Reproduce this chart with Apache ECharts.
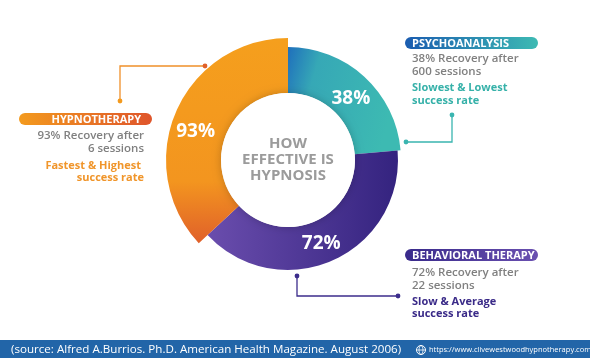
<!DOCTYPE html>
<html>
<head>
<meta charset="utf-8">
<script src="https://cdn.jsdelivr.net/npm/echarts@6/dist/echarts.min.js"></script>
<style>html,body{margin:0;padding:0;background:#fff;}#c{width:590px;height:358px;}</style>
</head>
<body>
<div id="c"></div>
<script>
// ---- data ----
var therapies = ['Psychoanalysis', 'Behavioral Therapy', 'Hypnotherapy'];
var recoveryPct = [38, 72, 93];            // label values
var arcSpanDeg = [85, 142, 133];            // drawn arc spans (degrees) as they appear in the picture
var sessions = [600, 22, 6];
var headlines = ['PSYCHOANALYSIS', 'BEHAVIORAL THERAPY', 'HYPNOTHERAPY'];
var verdicts = [['Slowest & Lowest', 'success rate'], ['Slow & Average', 'success rate'], ['Fastest & Highest', 'success rate']];

var FONT = '"Open Sans", sans-serif';
var outerR = [113, 110, 122];
var innerR = 67;
var CX = 288, CY = 160;
var labelShift = [[0, 7], [-4, 0], [-3, 10]];

function lg(x, y, x2, y2, stops) {
  return new echarts.graphic.LinearGradient(x, y, x2, y2, stops.map(function (s) { return { offset: s[0], color: s[1] }; }));
}
var sliceFills = [
  lg(0, 0, 1, 0.3, [[0, '#1f6fbc'], [0.28, '#36a8b6'], [1, '#3dbab2']]),
  lg(0, 0, 1, 0, [[0, '#6a4dad'], [1, '#34237f']]),
  lg(0, 0, 0, 1, [[0, '#f59f1d'], [0.7, '#f3951f'], [1, '#e0602a']])
];

var series = therapies.map(function (name, i) {
  return {
    type: 'pie',
    silent: true,
    center: [CX, CY],
    radius: [innerR, outerR[i]],
    startAngle: 90,
    clockwise: true,
    avoidLabelOverlap: false,
    labelLine: { show: false },
    animation: false,
    data: therapies.map(function (n, j) {
      return {
        name: n,
        value: arcSpanDeg[j],
        itemStyle: { color: j === i ? sliceFills[i] : 'rgba(0,0,0,0)' },
        label: {
          show: j === i,
          position: 'inside',
          formatter: recoveryPct[j] + '%',
          offset: labelShift[j],
          color: '#ffffff',
          fontSize: 19,
          fontWeight: 'bold',
          fontFamily: FONT
        }
      };
    })
  };
});

function txt(x, y, s, opts) {
  return {
    type: 'text', x: x, y: y, z: 20,
    style: Object.assign({ text: s, fontFamily: FONT, fontSize: 11.5, fontWeight: 600, fill: '#808080', textVerticalAlign: 'middle', textAlign: 'left' }, opts || {})
  };
}
function pill(x, y, w, h, c1, c2) {
  return { type: 'rect', z: 15, shape: { x: x, y: y, width: w, height: h, r: h / 2 }, style: { fill: lg(0, 0, 1, 0, [[0, c1], [1, c2]]) } };
}
function poly(pts, color) {
  return { type: 'polyline', z: 15, shape: { points: pts }, style: { stroke: color, lineWidth: 1.3, fill: null } };
}
function dot(x, y, color) {
  return { type: 'circle', z: 16, shape: { cx: x, cy: y, r: 2.4 }, style: { fill: color } };
}

var graphics = [
  // inner white disc with soft shadow
  { type: 'circle', z: 10, shape: { cx: CX, cy: CY, r: innerR }, style: { fill: '#ffffff', shadowBlur: 8, shadowColor: 'rgba(0,0,0,0.22)' } },
  { type: 'text', z: 12, x: CX, y: CY, style: { text: 'HOW\nEFFECTIVE IS\nHYPNOSIS', fontFamily: FONT, fontWeight: 'bold', fontSize: 15, lineHeight: 16, fill: '#9b9b9b', textAlign: 'center', textVerticalAlign: 'middle' } },

  // Psychoanalysis
  pill(405, 37, 133, 12, '#1a5cb0', '#3dbab3'),
  txt(412, 43.5, headlines[0], { fill: '#ffffff', fontWeight: 'bold', fontSize: 11 }),
  txt(412, 59, recoveryPct[0] + '% Recovery after'),
  txt(412, 71.5, sessions[0] + ' sessions'),
  txt(412, 88, verdicts[0][0], { fill: '#36b1a9', fontWeight: 'bold', fontSize: 11 }),
  txt(412, 100.5, verdicts[0][1], { fill: '#36b1a9', fontWeight: 'bold', fontSize: 11 }),
  poly([[452, 115], [452, 142], [406, 142]], '#3ab5b0'),
  dot(452, 115, '#3ab5b0'), dot(406, 142, '#3ab5b0'),

  // Behavioral
  pill(405, 249, 133, 12, '#392a8b', '#6a50b0'),
  txt(412, 255.5, headlines[1], { fill: '#ffffff', fontWeight: 'bold', fontSize: 11 }),
  txt(412, 273, recoveryPct[1] + '% Recovery after'),
  txt(412, 285.5, sessions[1] + ' sessions'),
  txt(412, 302, verdicts[1][0], { fill: '#3a2a88', fontWeight: 'bold', fontSize: 11 }),
  txt(412, 314, verdicts[1][1], { fill: '#3a2a88', fontWeight: 'bold', fontSize: 11 }),
  poly([[297, 276], [297, 296], [398, 296]], '#3c2d8c'),
  dot(297, 276, '#3c2d8c'), dot(398, 296, '#3c2d8c'),

  // Hypnotherapy
  pill(19, 113, 133, 12, '#f39a1e', '#df552b'),
  txt(141, 119.5, headlines[2], { fill: '#ffffff', fontWeight: 'bold', fontSize: 11, textAlign: 'right' }),
  txt(144, 136, recoveryPct[2] + '% Recovery after', { textAlign: 'right' }),
  txt(144, 149, sessions[2] + ' sessions', { textAlign: 'right' }),
  txt(141, 166, verdicts[2][0], { fill: '#f0952a', fontWeight: 'bold', fontSize: 11, textAlign: 'right' }),
  txt(144, 178, verdicts[2][1], { fill: '#f0952a', fontWeight: 'bold', fontSize: 11, textAlign: 'right' }),
  poly([[205, 66], [120, 66], [120, 101]], '#f0902a'),
  dot(205, 66, '#e0602a'), dot(120, 101, '#f39a1e'),

  // footer
  { type: 'rect', z: 15, shape: { x: 0, y: 340, width: 590, height: 18 }, style: { fill: '#2265a8' } },
  txt(11, 349.5, '(source: Alfred A.Burrios. Ph.D. American Health Magazine. August 2006)', { fill: '#ffffff', fontSize: 11.6, fontWeight: 500 }),
  { type: 'circle', z: 16, shape: { cx: 421, cy: 350, r: 4.5 }, style: { fill: null, stroke: '#ffffff', lineWidth: 1 } },
  { type: 'ellipse', z: 16, shape: { cx: 421, cy: 350, rx: 2, ry: 4.5 }, style: { fill: null, stroke: '#ffffff', lineWidth: 0.8 } },
  { type: 'line', z: 16, shape: { x1: 416.5, y1: 350, x2: 425.5, y2: 350 }, style: { stroke: '#ffffff', lineWidth: 0.8 } },
  txt(429, 350, 'https://www.clivewestwoodhypnotherapy.com.au/', { fill: '#ffffff', fontSize: 7.5, fontWeight: 'normal' })
];

var chart = echarts.init(document.getElementById('c'), null, { renderer: 'canvas' });
chart.setOption({
  backgroundColor: '#ffffff',
  animation: false,
  series: series,
  graphic: graphics
});
</script>
</body>
</html>
